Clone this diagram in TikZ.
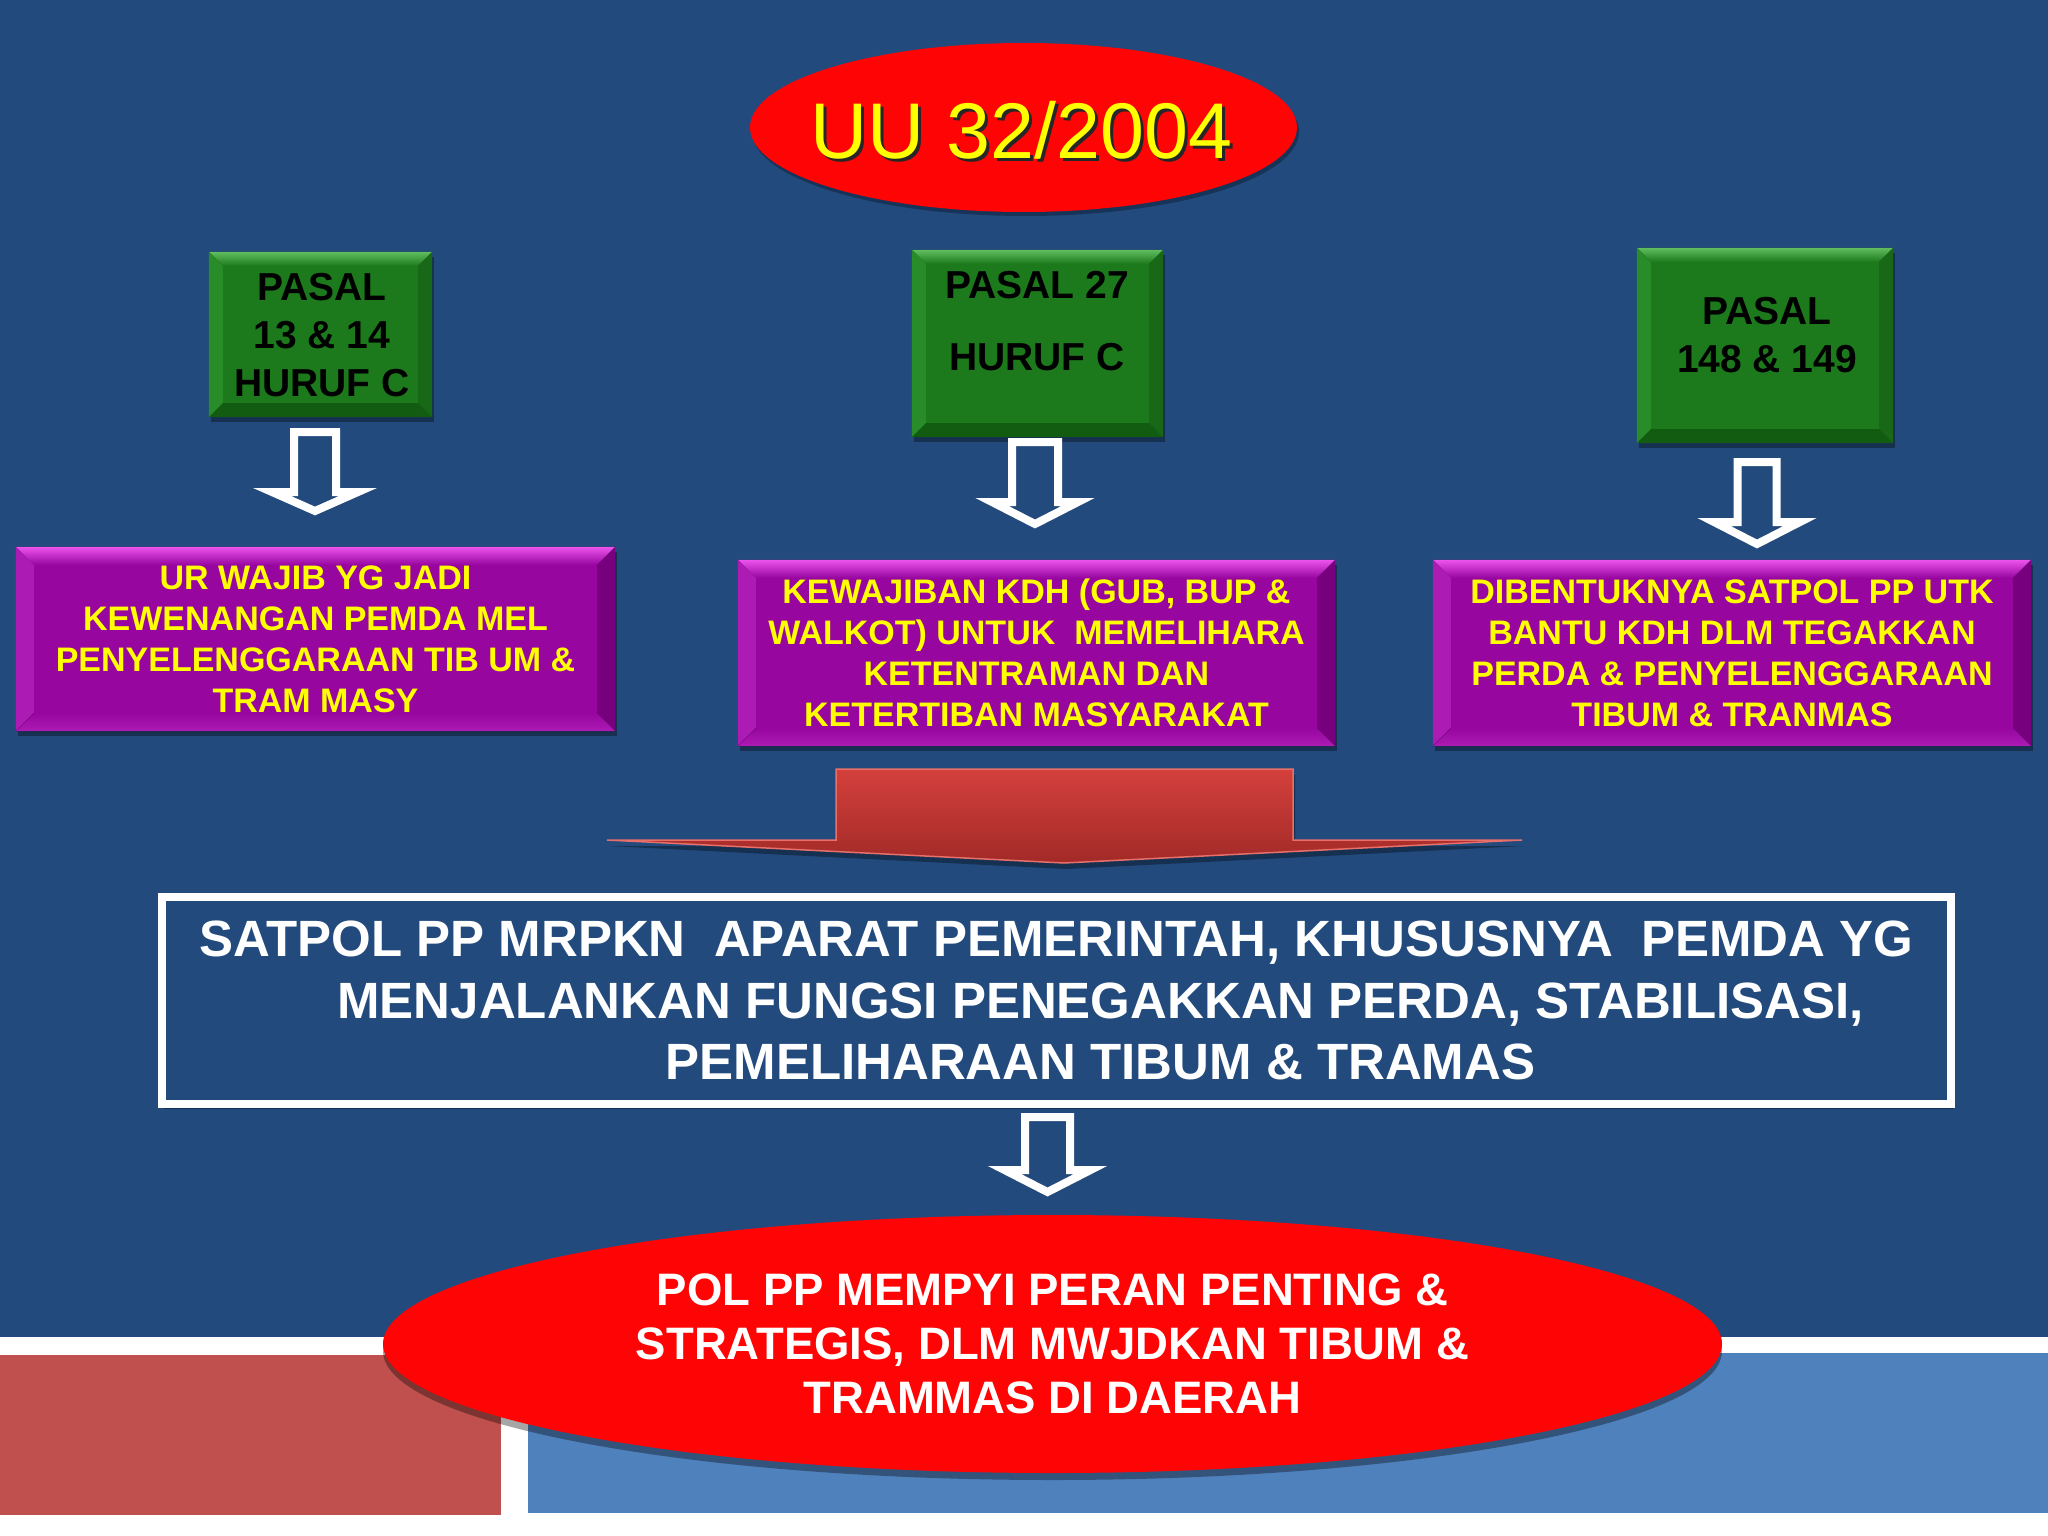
\documentclass[tikz,border=0pt]{standalone}
\usepackage{fontspec}
\setmainfont{Liberation Sans}
\usetikzlibrary{shapes.geometric,shadows}
\definecolor{bgblue}{RGB}{34,74,125}
\definecolor{botred}{RGB}{192,80,77}
\definecolor{botblue}{RGB}{79,129,189}
\definecolor{grbase}{RGB}{28,122,28}
\definecolor{grlight}{RGB}{96,190,96}
\definecolor{grside}{RGB}{40,140,40}
\definecolor{grdark}{RGB}{18,92,18}
\definecolor{pubase}{RGB}{152,6,160}
\definecolor{pulight}{RGB}{236,84,236}
\definecolor{puside}{RGB}{172,28,180}
\definecolor{pudark}{RGB}{118,0,126}
\definecolor{arrtop}{RGB}{212,64,60}
\definecolor{arrbot}{RGB}{162,42,40}
\definecolor{arredge}{RGB}{232,112,104}
\definecolor{ttlyellow}{RGB}{255,255,0}
\definecolor{ellred}{RGB}{255,4,4}
\newcommand\bevelize[6]{%
 \fill[#3] (#1.north west) -- (#1.north east) -- ([xshift=-#2pt,yshift=-#2pt]#1.north east) -- ([xshift=#2pt,yshift=-#2pt]#1.north west) -- cycle;
 \fill[#4] (#1.north west) -- ([xshift=#2pt,yshift=-#2pt]#1.north west) -- ([xshift=#2pt,yshift=#2pt]#1.south west) -- (#1.south west) -- cycle;
 \fill[#5] (#1.north east) -- ([xshift=-#2pt,yshift=-#2pt]#1.north east) -- ([xshift=-#2pt,yshift=#2pt]#1.south east) -- (#1.south east) -- cycle;
 \fill[#6] (#1.south west) -- ([xshift=#2pt,yshift=#2pt]#1.south west) -- ([xshift=-#2pt,yshift=#2pt]#1.south east) -- (#1.south east) -- cycle;
}
\newcommand\hollowarrow[6]{% x, ytop, ybase, ytip, shaft half, head half
 \draw[hollow] (#1-#5,#2) -- (#1-#5,#3) -- (#1-#6,#3) -- (#1,#4) -- (#1+#6,#3) -- (#1+#5,#3) -- (#1+#5,#2) -- cycle;
}
\tikzset{
 softshadow/.style={drop shadow={shadow xshift=2pt, shadow yshift=-5pt, opacity=0.35, fill=black}},
 greenbox/.style={rectangle, fill=grbase, inner sep=0pt, softshadow},
 greentext/.style={font=\bfseries\fontsize{39}{48}\selectfont, text=black, align=center, inner sep=0pt},
 purplebox/.style={rectangle, fill=pubase, inner sep=0pt, softshadow},
 purpletext/.style={inner sep=0pt, align=center, text=ttlyellow, font=\bfseries\fontsize{34}{41}\selectfont},
 hollow/.style={draw=white, line width=8pt, line join=miter, fill=bgblue},
 titleell/.style={ellipse, fill=ellred, inner sep=0pt, minimum width=547, minimum height=169,
   drop shadow={shadow xshift=2pt, shadow yshift=-4pt, opacity=0.3, fill=black}},
 titlefont/.style={font=\fontsize{79}{90}\selectfont, inner sep=0pt},
 mainbox/.style={rectangle, draw=white, fill=bgblue, line width=8pt, inner sep=0pt, minimum width=1789, minimum height=207,
   text=white, align=center, font=\bfseries\fontsize{51}{61.5}\selectfont,
   drop shadow={shadow xshift=2pt, shadow yshift=-5pt, opacity=0.35, fill=black}},
 conell/.style={ellipse, fill=ellred, inner sep=0pt, minimum width=1339, minimum height=258,
   text=white, align=center, font=\bfseries\fontsize{45.5}{54}\selectfont,
   drop shadow={shadow xshift=0pt, shadow yshift=-7pt, opacity=0.35, fill=black}},
}
\begin{document}
\begin{tikzpicture}[x=1pt,y=-1pt]
\useasboundingbox (0,0) rectangle (2048,1536);
% background
\fill[white] (0,0) rectangle (2048,1536);
\fill[bgblue] (0,0) rectangle (2048,1337);
\fill[botred] (0,1355) rectangle (501,1515);
\fill[botblue] (528,1353) rectangle (2048,1513);

% title
\node[titleell] (uu) at (1023.5,127.5) {};
\node[titlefont, text=black!85] (uushadow) at (1024.5,133) {UU 32/2004};
\node[titlefont, text=ttlyellow] (uutext) at (1021.5,130) {UU 32/2004};

% green boxes
\node[greenbox, minimum width=223, minimum height=165] (g1) at (320.5,334.5) {};
\node[greenbox, minimum width=251, minimum height=187] (g2) at (1037.5,343.5) {};
\node[greenbox, minimum width=256, minimum height=195] (g3) at (1765,345.5) {};
\bevelize{g1}{14}{top color=grlight, bottom color=grbase}{grside}{grbase!85!black}{grdark}
\bevelize{g2}{14}{top color=grlight, bottom color=grbase}{grside}{grbase!85!black}{grdark}
\bevelize{g3}{14}{top color=grlight, bottom color=grbase}{grside}{grbase!85!black}{grdark}
\node[greentext] (g1t) at (322,335) {PASAL\\13 \& 14\\HURUF C};
\node[greentext] (g2t) at (1037,321) {PASAL 27\\[24pt]HURUF C};
\node[greentext] (g3t) at (1767,335) {PASAL\\148 \& 149};

% hollow arrows
\hollowarrow{315}{432}{492}{511}{21}{43}
\hollowarrow{1035}{442}{502}{524}{23}{43}
\hollowarrow{1757}{462}{522}{544}{19.5}{43}

% purple boxes
\node[purplebox, minimum width=599, minimum height=184] (p1) at (315.5,639) {};
\node[purplebox, minimum width=597, minimum height=186] (p2) at (1036.5,653) {};
\node[purplebox, minimum width=598, minimum height=186] (p3) at (1732,653) {};
\bevelize{p1}{18}{top color=pulight, bottom color=pubase}{puside}{pudark}{top color=pubase, bottom color=puside}
\bevelize{p2}{18}{top color=pulight, bottom color=pubase}{puside}{pudark}{top color=pubase, bottom color=puside}
\bevelize{p3}{18}{top color=pulight, bottom color=pubase}{puside}{pudark}{top color=pubase, bottom color=puside}
\node[purpletext] (p1t) at (p1) {UR WAJIB YG JADI\\KEWENANGAN PEMDA MEL\\PENYELENGGARAAN TIB UM \&\\TRAM MASY};
\node[purpletext] (p2t) at (p2) {KEWAJIBAN KDH (GUB, BUP \&\\WALKOT) UNTUK\ \ MEMELIHARA\\KETENTRAMAN DAN\\KETERTIBAN MASYARAKAT};
\node[purpletext] (p3t) at (p3) {DIBENTUKNYA SATPOL PP UTK\\BANTU KDH DLM TEGAKKAN\\PERDA \& PENYELENGGARAAN\\TIBUM \& TRANMAS};

% red block arrow
\fill[black, opacity=0.35] (838,775) -- (1295,775) -- (1295,846) -- (1524,846) -- (1066,869) -- (609,846) -- (838,846) -- cycle;
\draw[arredge, line width=1.5pt, top color=arrtop, bottom color=arrbot] (836,769) -- (1293,769) -- (1293,840) -- (1522,840) -- (1064,863) -- (607,840) -- (836,840) -- cycle;

% main box
\node[mainbox] (main) at (1056.5,1000.5) {SATPOL PP MRPKN\ \ APARAT PEMERINTAH, KHUSUSNYA\ \ PEMDA YG\\\hspace*{88pt}MENJALANKAN FUNGSI PENEGAKKAN PERDA, STABILISASI,\\\hspace*{88pt}PEMELIHARAAN TIBUM \& TRAMAS};

% arrow to conclusion
\hollowarrow{1047.5}{1117}{1170}{1192}{22.5}{43}

% conclusion
\node[conell] (concl) at (1052.5,1344) {POL PP MEMPYI PERAN PENTING \&\\STRATEGIS, DLM MWJDKAN TIBUM \&\\TRAMMAS DI DAERAH};
\end{tikzpicture}
\end{document}
